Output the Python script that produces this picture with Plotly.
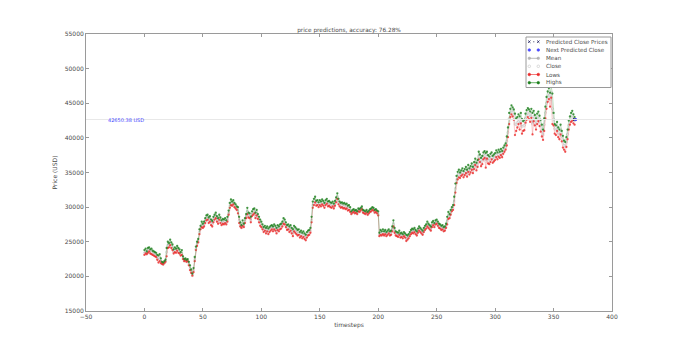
import numpy as np
import plotly.graph_objects as go

# Highs (thousands of USD), one per timestep
highs_k = [
    23.8, 24.0, 23.6, 24.1, 24.2, 23.9, 24.0, 23.7, 23.6, 23.5,
    23.4, 23.1, 23.0, 23.2, 22.6, 22.1, 22.0, 22.2, 22.4, 24.1,
    25.0, 24.8, 25.3, 24.9, 24.6, 23.9, 24.2, 24.0, 24.4, 24.1,
    23.9, 23.5, 23.8, 22.9, 22.5, 22.6, 22.4, 22.5, 22.1, 21.6,
    21.0, 20.4, 21.2, 22.8, 24.3, 25.0, 25.4, 26.8, 27.3, 27.9,
    27.6, 27.9, 28.4, 28.8, 28.9, 28.5, 28.7, 28.2, 28.0, 28.6,
    28.9, 29.2, 28.7, 28.4, 28.9, 28.5, 28.1, 28.3, 28.2, 28.4,
    28.1, 28.6, 29.5, 30.6, 31.1, 30.8, 31.0, 30.6, 30.4, 30.1,
    30.0, 28.6, 27.8, 27.4, 28.1, 27.6, 28.4, 29.0, 29.9, 29.2,
    29.1, 28.6, 29.4, 29.7, 29.8, 29.2, 29.6, 29.0, 28.6, 28.2,
    27.9, 27.5, 27.1, 27.3, 27.0, 27.2, 26.9, 27.1, 27.3, 27.4,
    27.2, 27.5, 27.3, 27.0, 27.4, 27.2, 27.5, 27.6, 27.9, 28.4,
    28.2, 27.8, 27.4, 27.5, 27.2, 27.4, 27.0, 26.8, 27.3, 27.1,
    26.9, 26.7, 26.8, 26.4, 26.6, 26.3, 26.5, 26.2, 26.0, 26.4,
    26.6, 26.7, 27.0, 28.6, 30.8, 31.2, 31.5, 30.9, 31.0, 30.7,
    31.0, 30.8, 31.1, 30.9, 30.6, 31.0, 31.2, 30.8, 30.9, 30.7,
    30.6, 30.8, 30.5, 30.9, 31.4, 32.0, 31.2, 30.8, 30.6, 30.7,
    30.5, 30.6, 30.4, 30.5, 30.2, 30.3, 30.0, 29.4, 29.6, 29.7,
    29.5, 29.6, 29.4, 29.8, 29.7, 29.9, 30.1, 29.6, 29.5, 29.4,
    29.6, 29.3, 29.5, 29.7, 29.8, 30.0, 29.9, 29.6, 29.7, 29.5,
    29.4, 26.3, 26.7, 26.5, 26.8, 26.5, 26.7, 26.4, 26.6, 26.8,
    26.5, 26.6, 27.2, 28.1, 27.0, 26.5, 26.4, 26.3, 26.6, 26.2,
    26.3, 26.1, 26.4, 26.2, 26.0, 25.9, 26.1, 26.4, 26.7, 26.9,
    26.8, 27.0, 26.7, 26.5, 26.9, 27.2, 27.0, 26.8, 26.6, 27.0,
    27.3, 27.5, 27.9, 27.6, 27.4, 27.2, 27.8, 28.0, 27.7, 28.1,
    28.2, 27.9, 27.6, 27.5, 27.3, 27.4, 27.1, 27.2, 27.6, 28.6,
    29.3, 29.0, 29.6, 30.0, 30.3, 31.5, 33.4, 34.5, 35.1, 35.4,
    35.0, 35.3, 35.6, 35.2, 35.5, 35.8, 35.4, 36.1, 35.6, 35.9,
    36.3, 35.8, 36.5, 37.0, 36.4, 36.8, 38.0, 37.6, 37.1, 37.4,
    37.9, 38.1, 37.8, 38.0, 37.5, 37.3, 37.7, 37.9, 37.4, 37.6,
    37.8, 38.2, 37.9, 38.3, 38.0, 38.4, 38.1, 38.6, 38.9, 39.2,
    40.2, 41.5, 43.6, 44.2, 44.7, 44.4, 44.1, 43.5, 42.8, 43.0,
    43.4, 43.1, 43.6, 42.7, 42.4, 42.6, 43.5, 44.0, 44.3, 44.1,
    43.8, 44.2, 43.6, 43.9, 43.3, 42.8, 43.5, 43.8, 43.2, 42.6,
    41.9, 41.2, 42.8, 44.5, 45.9, 46.7, 47.2, 46.5, 47.4, 46.4,
    43.6, 42.0, 41.8, 42.3, 41.5, 41.2, 41.9, 41.0, 40.3, 39.6,
    39.4, 40.1, 41.2, 42.5, 43.1, 43.6, 43.9, 43.4, 43.0,
]

# Lows (thousands of USD)
lows_k = [
    23.1, 23.3, 23.2, 23.4, 23.6, 23.3, 23.2, 23.1, 23.0, 22.9,
    22.8, 22.4, 22.0, 22.2, 21.9, 21.8, 21.7, 21.9, 22.1, 22.9,
    24.1, 24.2, 24.5, 24.1, 23.8, 23.3, 23.5, 23.4, 23.7, 23.4,
    23.3, 23.0, 23.1, 22.5, 22.2, 22.3, 22.1, 22.2, 21.6, 20.9,
    20.5, 20.1, 20.6, 22.2, 23.8, 24.4, 24.9, 26.1, 26.8, 27.1,
    27.0, 27.2, 27.7, 28.1, 28.2, 27.7, 27.9, 27.4, 27.2, 27.8,
    28.2, 28.4, 27.9, 27.6, 28.2, 27.7, 27.4, 27.6, 27.5, 27.7,
    27.5, 27.9, 28.9, 29.9, 30.3, 30.2, 30.4, 30.0, 29.8, 29.6,
    29.1, 27.7, 27.2, 27.0, 27.3, 27.1, 27.7, 28.4, 29.0, 28.5,
    28.4, 27.8, 28.7, 28.9, 29.1, 28.4, 28.8, 28.3, 27.8, 27.3,
    27.1, 26.8, 26.4, 26.6, 26.2, 26.5, 26.1, 26.4, 26.6, 26.8,
    26.5, 26.8, 26.6, 26.2, 26.7, 26.5, 26.8, 26.9, 27.2, 27.6,
    27.5, 27.1, 26.7, 26.8, 26.4, 26.6, 26.2, 25.8, 26.5, 26.3,
    26.1, 25.9, 26.0, 25.6, 25.8, 25.5, 25.7, 25.4, 25.2, 25.6,
    25.9, 26.0, 26.3, 27.8, 29.9, 30.3, 30.7, 30.2, 30.3, 30.0,
    30.3, 30.1, 30.4, 30.2, 29.9, 30.3, 30.5, 30.1, 30.2, 30.0,
    29.9, 30.1, 29.8, 30.2, 30.7, 31.2, 30.4, 30.1, 29.9, 30.0,
    29.8, 29.9, 29.7, 29.8, 29.5, 29.6, 29.3, 29.0, 29.2, 29.3,
    29.1, 29.2, 29.0, 29.4, 29.3, 29.5, 29.7, 29.2, 29.1, 29.0,
    29.2, 28.9, 29.1, 29.3, 29.4, 29.6, 29.5, 29.2, 29.3, 29.1,
    28.8, 25.8, 26.0, 25.9, 26.1, 25.9, 26.1, 25.8, 26.0, 26.2,
    25.9, 26.0, 26.5, 27.2, 26.3, 25.9, 25.8, 25.7, 26.0, 25.6,
    25.7, 25.5, 25.8, 25.6, 25.1, 25.3, 25.5, 25.8, 26.1, 26.3,
    26.2, 26.4, 26.1, 25.9, 26.3, 26.6, 26.4, 26.2, 26.0, 26.4,
    26.7, 26.9, 27.2, 27.0, 26.8, 26.6, 27.1, 27.4, 27.1, 27.5,
    27.6, 27.3, 27.0, 26.9, 26.7, 26.8, 26.5, 26.6, 27.0, 27.5,
    28.3, 28.4, 28.9, 29.4, 29.6, 30.3, 32.1, 33.5, 34.0, 34.3,
    34.2, 34.5, 34.7, 34.3, 34.6, 34.9, 34.4, 35.1, 34.7, 35.0,
    35.4, 34.9, 35.5, 36.1, 35.3, 35.8, 36.9, 36.5, 35.9, 36.2,
    36.9, 37.1, 35.7, 37.0, 36.3, 36.2, 36.5, 36.9, 36.4, 36.6,
    36.8, 37.2, 36.9, 37.3, 37.1, 37.5, 37.2, 37.7, 38.0, 38.3,
    38.9, 40.1, 42.0, 43.0, 43.4, 43.1, 42.6, 40.4, 41.0, 41.5,
    42.0, 41.2, 42.1, 40.6, 41.0, 41.1, 42.2, 42.6, 43.0, 42.7,
    42.3, 42.9, 40.5, 42.4, 41.8, 41.2, 42.0, 42.4, 41.7, 40.9,
    40.2, 39.7, 41.0, 42.8, 44.2, 45.2, 45.6, 44.5, 45.8, 42.0,
    41.8, 40.6, 40.4, 41.0, 40.1, 39.8, 40.5, 39.5, 38.6, 38.3,
    38.0, 38.7, 39.8, 41.2, 41.9, 42.3, 42.5, 42.1, 41.9,
]

# Close (thousands of USD)
close_k = [
    23.3, 23.6, 23.2, 23.7, 23.8, 23.4, 23.5, 23.2, 23.1, 23.0,
    22.9, 22.5, 22.3, 22.6, 22.0, 21.8, 21.7, 21.9, 22.1, 23.5,
    24.4, 24.3, 24.8, 24.3, 24.0, 23.5, 23.7, 23.6, 23.9, 23.6,
    23.4, 23.1, 23.3, 22.5, 22.2, 22.3, 22.1, 22.2, 21.7, 21.1,
    20.6, 20.1, 20.8, 22.4, 23.9, 24.6, 25.0, 26.3, 26.9, 27.3,
    27.1, 27.4, 27.9, 28.3, 28.4, 27.9, 28.1, 27.6, 27.5, 28.0,
    28.4, 28.6, 28.1, 27.8, 28.4, 27.9, 27.6, 27.8, 27.7, 27.9,
    27.6, 28.1, 29.0, 30.1, 30.5, 30.3, 30.5, 30.1, 29.9, 29.7,
    29.4, 28.0, 27.3, 27.0, 27.5, 27.2, 27.9, 28.5, 29.3, 28.7,
    28.6, 28.0, 28.9, 29.1, 29.3, 28.6, 29.0, 28.5, 28.0, 27.6,
    27.3, 27.0, 26.6, 26.8, 26.4, 26.7, 26.3, 26.6, 26.8, 26.9,
    26.7, 27.0, 26.8, 26.4, 26.9, 26.7, 27.0, 27.1, 27.4, 27.8,
    27.7, 27.3, 26.9, 27.0, 26.6, 26.8, 26.4, 26.1, 26.7, 26.5,
    26.3, 26.1, 26.2, 25.8, 26.0, 25.7, 25.9, 25.6, 25.4, 25.8,
    26.1, 26.2, 26.5, 28.0, 30.2, 30.6, 30.9, 30.4, 30.5, 30.2,
    30.5, 30.3, 30.6, 30.4, 30.1, 30.5, 30.7, 30.3, 30.4, 30.2,
    30.1, 30.3, 30.0, 30.4, 30.9, 31.4, 30.6, 30.3, 30.1, 30.2,
    30.0, 30.1, 29.9, 30.0, 29.7, 29.8, 29.5, 29.0, 29.2, 29.3,
    29.1, 29.2, 29.0, 29.4, 29.3, 29.5, 29.7, 29.2, 29.1, 29.0,
    29.2, 28.9, 29.1, 29.3, 29.4, 29.6, 29.5, 29.2, 29.3, 29.1,
    28.9, 25.9, 26.2, 26.0, 26.3, 26.0, 26.2, 25.9, 26.1, 26.3,
    26.0, 26.1, 26.7, 27.5, 26.5, 26.0, 25.9, 25.8, 26.1, 25.7,
    25.8, 25.6, 25.9, 25.7, 25.3, 25.4, 25.6, 25.9, 26.2, 26.4,
    26.3, 26.5, 26.2, 26.0, 26.4, 26.7, 26.5, 26.3, 26.1, 26.5,
    26.8, 27.0, 27.4, 27.1, 26.9, 26.7, 27.3, 27.5, 27.2, 27.6,
    27.7, 27.4, 27.1, 27.0, 26.8, 26.9, 26.6, 26.7, 27.1, 27.9,
    28.6, 28.5, 29.1, 29.5, 29.8, 30.7, 32.6, 33.8, 34.4, 34.7,
    34.4, 34.7, 35.0, 34.6, 34.9, 35.2, 34.7, 35.4, 35.0, 35.3,
    35.7, 35.2, 35.8, 36.4, 35.7, 36.1, 37.3, 36.9, 36.3, 36.6,
    37.2, 37.4, 36.6, 37.3, 36.7, 36.6, 36.9, 37.2, 36.7, 36.9,
    37.1, 37.5, 37.2, 37.6, 37.4, 37.8, 37.5, 38.0, 38.3, 38.6,
    39.5, 40.8, 42.8, 43.6, 44.0, 43.7, 43.3, 42.0, 41.9, 42.2,
    42.7, 42.1, 42.8, 41.6, 41.7, 41.8, 42.8, 43.3, 43.6, 43.4,
    43.0, 43.5, 42.0, 43.1, 42.5, 42.0, 42.7, 43.1, 42.4, 41.7,
    41.0, 40.4, 41.9, 43.6, 45.0, 45.9, 46.4, 45.5, 46.6, 44.2,
    42.7, 41.3, 41.1, 41.6, 40.8, 40.5, 41.2, 40.2, 39.4, 38.9,
    38.7, 39.4, 40.5, 41.8, 42.5, 42.9, 43.2, 42.7, 42.65,
]

next_predicted_close = 42650.38
title_text = "price predictions, accuracy: 76.28%"
x_ticks = [-50, 0, 50, 100, 150, 200, 250, 300, 350, 400]
y_ticks = [15000, 20000, 25000, 30000, 35000, 40000, 45000, 50000, 55000]
legend_labels = ["Predicted Close Prices", "Next Predicted Close", "Mean", "Close", "Lows", "Highs"]

highs = np.array(highs_k) * 1000
lows = np.array(lows_k) * 1000
close = np.array(close_k) * 1000
mean = (highs + lows) / 2
t = np.arange(len(close))

FONT = "DejaVu Sans"
TXT = "#4a4a4a"
RED_M = "rgba(235,40,40,0.8)"
RED_L = "rgba(240,90,90,0.3)"
GRN_M = "rgba(25,125,25,0.8)"
GRN_L = "rgba(70,160,70,0.3)"
GRY_M = "rgba(170,170,170,0.55)"
GRY_L = "rgba(150,150,150,0.4)"
BLUE = "#4a4aff"
NAVY = "#1a1a5a"

fig = go.Figure()
fig.add_trace(go.Scatter(x=t, y=mean, mode="lines+markers", name=legend_labels[2],
                         line=dict(color=GRY_L, width=1), marker=dict(size=2.2, color=GRY_M)))
fig.add_trace(go.Scatter(x=t, y=close, mode="markers", name=legend_labels[3],
                         marker=dict(size=2.2, color="rgba(255,255,255,0.6)",
                                     line=dict(color="rgba(190,190,190,0.6)", width=0.5))))
fig.add_trace(go.Scatter(x=t, y=lows, mode="lines+markers", name=legend_labels[4],
                         line=dict(color=RED_L, width=1), marker=dict(size=2.3, color=RED_M)))
fig.add_trace(go.Scatter(x=t, y=highs, mode="lines+markers", name=legend_labels[5],
                         line=dict(color=GRN_L, width=1), marker=dict(size=2.3, color=GRN_M)))
fig.add_trace(go.Scatter(x=[t[-1]], y=[next_predicted_close], mode="markers", name=legend_labels[0],
                         marker=dict(symbol="x", size=3, color=NAVY)))
fig.add_trace(go.Scatter(x=[t[-1] + 1], y=[next_predicted_close], mode="markers", name=legend_labels[1],
                         marker=dict(size=3, color=BLUE)))

fig.add_hline(y=next_predicted_close, line=dict(color="#e8e8e8", width=1))
fig.add_annotation(x=-15.7, y=next_predicted_close, text=f"{next_predicted_close:.2f} USD",
                   showarrow=False, font=dict(family=FONT, size=5, color=BLUE))

# ---- hand-built compact legend (matplotlib style), in paper coordinates ----
PL, PR, PT, PB = 86, 612, 34, 311
def px(x):
    return (x - PL) / (PR - PL)
def py(y):
    return (PB - y) / (PB - PT)

fig.add_shape(type="rect", xref="paper", yref="paper",
              x0=px(526), x1=px(611), y0=py(87.5), y1=py(37),
              line=dict(color="#9a9a9a", width=1), fillcolor="white", layer="above")
row_y = [41.7, 50.0, 58.3, 66.3, 74.5, 82.7]
styles = [
    dict(mc=NAVY, lc=NAVY, line=False, sym="x"),
    dict(mc=BLUE, lc=BLUE, line=False, sym="o"),
    dict(mc="rgba(170,170,170,0.8)", lc="rgba(170,170,170,0.8)", line=True, sym="o"),
    dict(mc="white", lc="rgba(190,190,190,0.9)", line=False, sym="oo"),
    dict(mc="rgb(235,40,40)", lc="rgba(240,90,90,0.8)", line=True, sym="o"),
    dict(mc="rgb(25,125,25)", lc="rgba(70,160,70,0.8)", line=True, sym="o"),
]
for label, yy, st in zip(legend_labels, row_y, styles):
    if st["line"]:
        fig.add_shape(type="line", xref="paper", yref="paper", x0=px(529.3), x1=px(538.3),
                      y0=py(yy), y1=py(yy), line=dict(color=st["lc"], width=1), layer="above")
    for mx in (529.3, 538.3):
        if st["sym"] == "x":
            for d in (1, -1):
                fig.add_shape(type="line", xref="paper", yref="paper",
                              x0=px(mx - 1.2), x1=px(mx + 1.2), y0=py(yy - 1.2 * d), y1=py(yy + 1.2 * d),
                              line=dict(color=st["mc"], width=0.8), layer="above")
            fig.add_shape(type="circle", xref="paper", yref="paper",
                          x0=px(533.3), x1=px(534.3), y0=py(yy + 0.5), y1=py(yy - 0.5),
                          line=dict(width=0), fillcolor="#6a6a8a", layer="above")
        else:
            fig.add_shape(type="circle", xref="paper", yref="paper",
                          x0=px(mx - 1.3), x1=px(mx + 1.3), y0=py(yy + 1.3), y1=py(yy - 1.3),
                          line=dict(color=st["lc"] if st["sym"] == "oo" else st["mc"], width=0.6),
                          fillcolor=st["mc"], layer="above")
    fig.add_annotation(xref="paper", yref="paper", x=px(544), y=py(yy), xanchor="left",
                       yanchor="middle", text=label, showarrow=False,
                       font=dict(family=FONT, size=5.6, color=TXT))

axis_common = dict(showgrid=False, zeroline=False, showline=True, mirror="ticks",
                   linecolor="#9a9a9a", linewidth=1, ticks="inside", ticklen=3,
                   tickcolor="#9a9a9a", tickfont=dict(family=FONT, size=6, color=TXT))
fig.update_xaxes(range=[-50, 400], tickvals=x_ticks, tickformat="d",
                 title=dict(text="timesteps", font=dict(family=FONT, size=6, color=TXT), standoff=3),
                 **axis_common)
fig.update_yaxes(range=[15000, 55000], tickvals=y_ticks, tickformat="d",
                 title=dict(text="Price (USD)", font=dict(family=FONT, size=6, color=TXT), standoff=6),
                 **axis_common)

fig.update_layout(
    width=680, height=345,
    margin=dict(l=86, r=68, t=34, b=34),
    paper_bgcolor="white", plot_bgcolor="white",
    title=dict(text=title_text, x=(PL + PR) / 2 / 680, xanchor="center", y=1 - 30 / 345, yanchor="middle",
               font=dict(family=FONT, size=5.8, color=TXT)),
    showlegend=False,
)

fig.write_html("out.html")
